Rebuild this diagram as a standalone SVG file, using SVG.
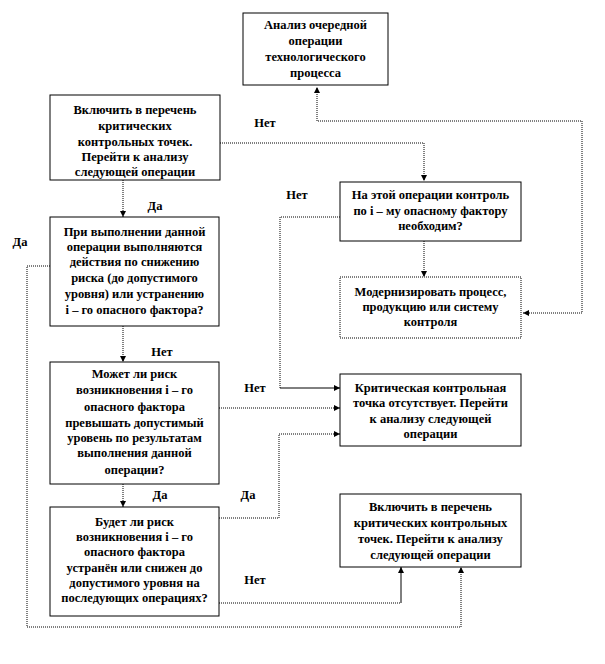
<svg xmlns="http://www.w3.org/2000/svg" width="605" height="664" viewBox="0 0 605 664">
<defs>
<marker id="arr" viewBox="0 0 8 8" refX="8" refY="4" markerWidth="6" markerHeight="6" orient="auto" markerUnits="userSpaceOnUse">
<path d="M0,0 L8,4 L0,8 z" fill="#000"/>
</marker>
<marker id="arrs" viewBox="0 0 8 8" refX="0" refY="4" markerWidth="6" markerHeight="6" orient="auto" markerUnits="userSpaceOnUse">
<path d="M8,0 L0,4 L8,8 z" fill="#000"/>
</marker>
</defs>
<style>
.box{fill:#fff;stroke:#000;stroke-width:1}
.dbox{fill:#fff;stroke:#000;stroke-width:1;stroke-dasharray:1 1}
.t{font-weight:bold;font-size:12.5px;fill:#000;text-anchor:middle}
.lbl{font-weight:bold;font-size:12.5px;fill:#000;text-anchor:middle}
.dot{fill:none;stroke:#000;stroke-width:1;stroke-dasharray:1 1}
.sol{fill:none;stroke:#000;stroke-width:1}
</style>
<rect width="605" height="664" fill="#fff"/>
<g id="connectors">
<path class="dot" d="M523,313 L582,313 L582,121 L317,121 L317,87" marker-start="url(#arrs)" marker-end="url(#arr)"/>
<path class="dot" d="M220,143 L424,143 L424,181" marker-end="url(#arr)"/>
<path class="dot" d="M123,180 L123,217" marker-end="url(#arr)"/>
<path class="dot" d="M424,241 L424,277" marker-end="url(#arr)"/>
<path class="dot" d="M340,217 L280,217 L280,388"/>
<path class="sol" d="M280,388 L340,388" marker-end="url(#arr)"/>
<path class="dot" d="M123,326 L123,362" marker-end="url(#arr)"/>
<path class="dot" d="M219,408 L340,408" marker-end="url(#arr)"/>
<path class="dot" d="M123,484 L123,507" marker-end="url(#arr)"/>
<path class="dot" d="M219,518 L279,518 L279,434 L340,434" marker-end="url(#arr)"/>
<path class="dot" d="M219,603 L401,603"/>
<path class="sol" d="M401,603 L401,567" marker-end="url(#arr)"/>
<path class="dot" d="M50,266 L27,266 L27,627 L461,627 L461,567" marker-end="url(#arr)"/>
</g>
<g font-family="Liberation Serif, DejaVu Serif, serif">
<g id="n_analysis">
<rect class="box" x="243" y="13" width="145" height="72"/>
<text class="t" x="315.5" y="29">Анализ  очередной</text>
<text class="t" x="315.5" y="45">операции</text>
<text class="t" x="315.5" y="61">технологического</text>
<text class="t" x="315.5" y="77">процесса</text>
</g>
<g id="n_include1">
<rect class="box" x="50" y="95" width="170" height="85"/>
<text class="t" x="135" y="114">Включить  в  перечень</text>
<text class="t" x="135" y="130">критических</text>
<text class="t" x="135" y="146">контрольных  точек.</text>
<text class="t" x="135" y="161">Перейти  к  анализу</text>
<text class="t" x="135" y="176">следующей  операции</text>
</g>
<g id="n_q1">
<rect class="box" x="50" y="217" width="169" height="109"/>
<text class="t" x="134.5" y="236">При  выполнении данной</text>
<text class="t" x="134.5" y="251">операции выполняются</text>
<text class="t" x="134.5" y="266">действия  по  снижению</text>
<text class="t" x="134.5" y="282">риска (до  допустимого</text>
<text class="t" x="134.5" y="298">уровня) или устранению</text>
<text class="t" x="134.5" y="314">i – го опасного фактора?</text>
</g>
<g id="n_q2">
<rect class="box" x="50" y="362" width="169" height="122"/>
<text class="t" x="134.5" y="378">Может ли  риск</text>
<text class="t" x="134.5" y="394">возникновения i  – го</text>
<text class="t" x="134.5" y="411">опасного фактора</text>
<text class="t" x="134.5" y="427">превышать допустимый</text>
<text class="t" x="134.5" y="442">уровень по результатам</text>
<text class="t" x="134.5" y="457">выполнения данной</text>
<text class="t" x="134.5" y="474">операции?</text>
</g>
<g id="n_q3">
<rect class="box" x="50" y="507" width="169" height="109"/>
<text class="t" x="134.5" y="526">Будет ли  риск</text>
<text class="t" x="134.5" y="541">возникновения i – го</text>
<text class="t" x="134.5" y="556">опасного фактора</text>
<text class="t" x="134.5" y="572">устранён или снижен до</text>
<text class="t" x="134.5" y="587">допустимого уровня на</text>
<text class="t" x="134.5" y="602">последующих  операциях?</text>
</g>
<g id="n_control">
<rect class="box" x="340" y="182" width="181" height="59"/>
<text class="t" x="430.5" y="199">На  этой операции контроль</text>
<text class="t" x="430.5" y="215">по i – му опасному фактору</text>
<text class="t" x="430.5" y="230">необходим?</text>
</g>
<g id="n_modernize">
<rect class="dbox" x="340" y="277" width="181" height="61"/>
<text class="t" x="430.5" y="296">Модернизировать процесс,</text>
<text class="t" x="430.5" y="311">продукцию или  систему</text>
<text class="t" x="430.5" y="326">контроля</text>
</g>
<g id="n_absent">
<rect class="box" x="340" y="374" width="181" height="72"/>
<text class="t" x="430.5" y="392">Критическая контрольная</text>
<text class="t" x="430.5" y="407">точка отсутствует. Перейти</text>
<text class="t" x="430.5" y="423">к анализу следующей</text>
<text class="t" x="430.5" y="438">операции</text>
</g>
<g id="n_include2">
<rect class="box" x="340" y="494" width="181" height="73"/>
<text class="t" x="430.5" y="511">Включить  в  перечень</text>
<text class="t" x="430.5" y="527">критических  контрольных</text>
<text class="t" x="430.5" y="543">точек. Перейти к  анализу</text>
<text class="t" x="430.5" y="559">следующей операции</text>
</g>
<g id="labels">
<text class="lbl" x="265" y="127">Нет</text>
<text class="lbl" x="297" y="199">Нет</text>
<text class="lbl" x="155" y="210">Да</text>
<text class="lbl" x="20" y="246">Да</text>
<text class="lbl" x="162" y="356">Нет</text>
<text class="lbl" x="255" y="392">Нет</text>
<text class="lbl" x="160" y="499">Да</text>
<text class="lbl" x="248" y="499">Да</text>
<text class="lbl" x="255" y="584">Нет</text>
</g>
</g>
</svg>
